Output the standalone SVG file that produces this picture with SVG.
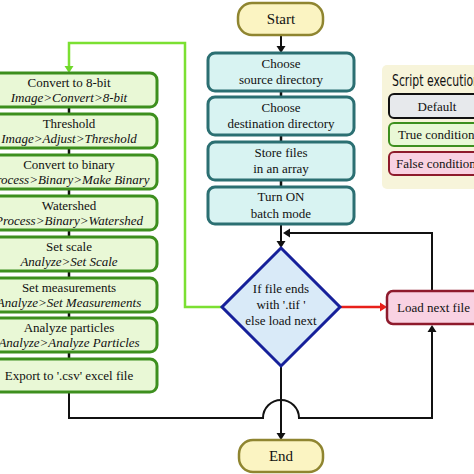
<svg xmlns="http://www.w3.org/2000/svg" width="474" height="474" viewBox="0 0 474 474">
<rect width="474" height="474" fill="#fff"/>

<g id="connectors" fill="none" stroke="#111" stroke-width="2">
<path stroke-width="2.5" d="M69,107V114M69,148V155M69,189V196M69,230V237M69,271V278M69,312V318M69,352V359"/>
<path stroke-width="2.5" d="M281,91V97M281,135V142M281,180V187"/>
<path d="M281,35V48"/>
<path d="M281,224V243"/>
<path d="M432,291V233H288"/>
<path d="M281,366V435"/>
<path d="M69,392V418H263A18,18 0 0 1 299,418H432V330"/>
<path d="M223,307H185V43H69V67" stroke="#7be032" stroke-width="2.5"/>
<path d="M341,307H381" stroke="#e8201a" stroke-width="2.5"/>
<g stroke="none" fill="#111">
<path d="M276.5,46L285.5,46L281,53Z"/>
<path d="M276.5,241L285.5,241L281,248Z"/>
<path d="M290,228.5L290,237.5L283,233Z"/>
<path d="M276.5,433L285.5,433L281,440Z"/>
<path d="M427.5,332L436.5,332L432,325Z"/>
</g>
<path d="M64.5,66L73.5,66L69,73Z" stroke="none" fill="#6fd82a"/>
<path d="M380,302.5L380,311.5L387,307Z" stroke="none" fill="#e8201a"/>
</g>

<g id="start"><rect x="238" y="3" width="85" height="32" rx="14" fill="#fbf4c2" stroke="#8f8530" stroke-width="2.5"/><text x="281" y="24" font-family="Liberation Serif" font-size="15" text-anchor="middle" fill="#111">Start</text></g>
<g id="end"><rect x="239" y="440" width="84" height="32" rx="14" fill="#fbf4c2" stroke="#8f8530" stroke-width="2.5"/><text x="281" y="461" font-family="Liberation Serif" font-size="15" text-anchor="middle" fill="#111">End</text></g>

<g id="src"><rect x="208" y="53" width="146" height="38" rx="7" fill="#d8f3f2" stroke="#2b6f72" stroke-width="3"/><text x="281" y="68" font-family="Liberation Serif" font-size="13" text-anchor="middle" fill="#111">Choose</text><text x="281" y="84" font-family="Liberation Serif" font-size="13" text-anchor="middle" fill="#111">source directory</text></g>
<g id="dst"><rect x="208" y="97" width="146" height="38" rx="7" fill="#d8f3f2" stroke="#2b6f72" stroke-width="3"/><text x="281" y="112" font-family="Liberation Serif" font-size="13" text-anchor="middle" fill="#111">Choose</text><text x="281" y="128" font-family="Liberation Serif" font-size="13" text-anchor="middle" fill="#111">destination directory</text></g>
<g id="store"><rect x="208" y="142" width="146" height="38" rx="7" fill="#d8f3f2" stroke="#2b6f72" stroke-width="3"/><text x="281" y="157" font-family="Liberation Serif" font-size="13" text-anchor="middle" fill="#111">Store files</text><text x="281" y="173" font-family="Liberation Serif" font-size="13" text-anchor="middle" fill="#111">in an array</text></g>
<g id="batch"><rect x="208" y="187" width="146" height="37" rx="7" fill="#d8f3f2" stroke="#2b6f72" stroke-width="3"/><text x="281" y="201" font-family="Liberation Serif" font-size="13" text-anchor="middle" fill="#111">Turn ON</text><text x="281" y="218" font-family="Liberation Serif" font-size="13" text-anchor="middle" fill="#111">batch mode</text></g>

<g id="decision"><path d="M281,248L340,307L281,366L222,307Z" fill="#d9eaf8" stroke="#16209a" stroke-width="3"/>
<text x="281" y="293" font-family="Liberation Serif" font-size="13" text-anchor="middle" fill="#111">If file ends</text><text x="281" y="309" font-family="Liberation Serif" font-size="13" text-anchor="middle" fill="#111">with '.tif '</text><text x="281" y="325" font-family="Liberation Serif" font-size="13" text-anchor="middle" fill="#111">else load next</text></g>

<g id="loadnext"><rect x="387" y="291" width="100" height="33" rx="6" fill="#f9d2e2" stroke="#8e1a2c" stroke-width="2.5"/><text x="397" y="312" font-family="Liberation Serif" font-size="13" fill="#111">Load next file</text></g>

<g id="b1"><rect x="-20" y="73" width="177" height="34" rx="7" fill="#e9f8d6" stroke="#3d8f1e" stroke-width="3"/><text x="69" y="87" font-family="Liberation Serif" font-size="13" text-anchor="middle" fill="#111">Convert to 8-bit</text><text x="69" y="102" font-family="Liberation Serif" font-size="13" font-style="italic" text-anchor="middle" fill="#111">Image&gt;Convert&gt;8-bit</text></g>
<g id="b2"><rect x="-20" y="114" width="177" height="34" rx="7" fill="#e9f8d6" stroke="#3d8f1e" stroke-width="3"/><text x="69" y="128" font-family="Liberation Serif" font-size="13" text-anchor="middle" fill="#111">Threshold</text><text x="69" y="143" font-family="Liberation Serif" font-size="13" font-style="italic" text-anchor="middle" fill="#111">Image&gt;Adjust&gt;Threshold</text></g>
<g id="b3"><rect x="-20" y="155" width="177" height="34" rx="7" fill="#e9f8d6" stroke="#3d8f1e" stroke-width="3"/><text x="69" y="169" font-family="Liberation Serif" font-size="13" text-anchor="middle" fill="#111">Convert to binary</text><text x="69" y="184" font-family="Liberation Serif" font-size="13" font-style="italic" text-anchor="middle" fill="#111">Process&gt;Binary&gt;Make Binary</text></g>
<g id="b4"><rect x="-20" y="196" width="177" height="34" rx="7" fill="#e9f8d6" stroke="#3d8f1e" stroke-width="3"/><text x="69" y="210" font-family="Liberation Serif" font-size="13" text-anchor="middle" fill="#111">Watershed</text><text x="69" y="225" font-family="Liberation Serif" font-size="13" font-style="italic" text-anchor="middle" fill="#111">Process&gt;Binary&gt;Watershed</text></g>
<g id="b5"><rect x="-20" y="237" width="177" height="34" rx="7" fill="#e9f8d6" stroke="#3d8f1e" stroke-width="3"/><text x="69" y="251" font-family="Liberation Serif" font-size="13" text-anchor="middle" fill="#111">Set scale</text><text x="69" y="266" font-family="Liberation Serif" font-size="13" font-style="italic" text-anchor="middle" fill="#111">Analyze&gt;Set Scale</text></g>
<g id="b6"><rect x="-20" y="278" width="177" height="34" rx="7" fill="#e9f8d6" stroke="#3d8f1e" stroke-width="3"/><text x="69" y="292" font-family="Liberation Serif" font-size="13" text-anchor="middle" fill="#111">Set measurements</text><text x="69" y="307" font-family="Liberation Serif" font-size="13" font-style="italic" text-anchor="middle" fill="#111">Analyze&gt;Set Measurements</text></g>
<g id="b7"><rect x="-20" y="318" width="177" height="34" rx="7" fill="#e9f8d6" stroke="#3d8f1e" stroke-width="3"/><text x="69" y="332" font-family="Liberation Serif" font-size="13" text-anchor="middle" fill="#111">Analyze particles</text><text x="69" y="347" font-family="Liberation Serif" font-size="13" font-style="italic" text-anchor="middle" fill="#111">Analyze&gt;Analyze Particles</text></g>
<g id="b8"><rect x="-20" y="359" width="177" height="33" rx="7" fill="#e9f8d6" stroke="#3d8f1e" stroke-width="3"/><text x="69" y="380" font-family="Liberation Serif" font-size="13" text-anchor="middle" fill="#111">Export to '.csv' excel file</text></g>

<g id="legend">
<rect x="382" y="65" width="110" height="124" rx="5" fill="#f7f4da"/>
<text x="392" y="86" font-family="DejaVu Sans" font-size="16" fill="#111" transform="translate(392,0) scale(0.68,1) translate(-392,0)">Script execution</text>
<rect x="389" y="94" width="100" height="24" rx="5" fill="#e7e9ec" stroke="#111" stroke-width="2"/><text x="437" y="111" font-family="Liberation Serif" font-size="13" text-anchor="middle" fill="#111">Default</text>
<rect x="389" y="123" width="100" height="23" rx="5" fill="#e9f8d6" stroke="#3d8f1e" stroke-width="2"/><text x="398" y="139" font-family="Liberation Serif" font-size="13" fill="#111">True condition</text>
<rect x="389" y="152" width="100" height="23" rx="5" fill="#f9d2e2" stroke="#8e1a2c" stroke-width="2"/><text x="396" y="168" font-family="Liberation Serif" font-size="13" fill="#111">False condition</text>
</g>
</svg>
